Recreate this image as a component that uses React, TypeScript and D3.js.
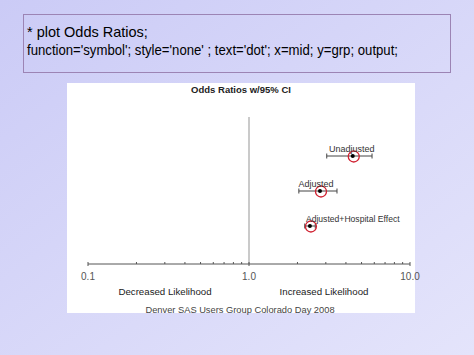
import React from "react";
import * as d3 from "d3";

const groups = ["Unadjusted", "Adjusted", "Adjusted+Hospital Effect"];
const oddsRatio = [4.41, 2.76, 2.39];
const lowerCI = [3.04, 2.04, 2.22];
const upperCI = [5.81, 3.52, 2.58];
const majorTicks = [0.1, 1, 10];
const majorTickLabels = ["0.1", "1.0", "10.0"];
const minorTicks = [0.2, 0.3, 0.4, 0.5, 0.6, 0.7, 0.8, 0.9, 2, 3, 4, 5, 6, 7, 8, 9];

const W = 474;
const H = 355;

export default function App() {
  const x = d3.scaleLog().domain([0.1, 10]).range([88, 410]);
  const y = d3.scalePoint<string>().domain(groups).range([156, 226]);
  const font = "Arial, 'Liberation Sans', Helvetica, sans-serif";
  const axisY = 264;
  const labelOffsetX = [0, -3, 0];
  const labelSize = [9, 9, 8.6];
  return (
    <svg width={W} height={H} style={{ position: "absolute", left: 0, top: 0 }} fontFamily={font}>
      <defs>
        <linearGradient id="bg" x1="0" y1="0" x2="1" y2="1">
          <stop offset="0" stopColor="#cbcbf6" />
          <stop offset="1" stopColor="#e4e4fb" />
        </linearGradient>
      </defs>
      <rect x={0} y={0} width={W} height={H} fill="url(#bg)" />
      <rect x={23.5} y={14.5} width={427} height={58} fill="none" stroke="#9c84b4" strokeWidth={1} />
      <text x={27} y={37} fontSize={14.5} fill="#000">* plot Odds Ratios;</text>
      <text x={27} y={55} fontSize={14} fill="#000" textLength={371} lengthAdjust="spacingAndGlyphs">function='symbol'; style='none' ; text='dot'; x=mid; y=grp; output;</text>

      <rect x={67} y={83} width={348} height={230} fill="#fff" />
      <text x={241} y={93} fontSize={9.5} fontWeight="bold" textAnchor="middle" fill="#222">Odds Ratios w/95% CI</text>

      <line x1={x(1)} x2={x(1)} y1={117} y2={axisY} stroke="#b8b8b8" strokeWidth={1.5} />

      <line x1={x(0.1)} x2={x(10)} y1={axisY} y2={axisY} stroke="#555" strokeWidth={1} />
      {minorTicks.map((t) => (
        <line key={"m" + t} x1={x(t)} x2={x(t)} y1={axisY - 2} y2={axisY} stroke="#555" />
      ))}
      {majorTicks.map((t, i) => (
        <g key={"M" + t}>
          <line x1={x(t)} x2={x(t)} y1={axisY - 2} y2={axisY + 2} stroke="#555" />
          <text x={x(t)} y={axisY + 16} fontSize={10} textAnchor="middle" fill="#555">{majorTickLabels[i]}</text>
        </g>
      ))}
      <text x={165} y={295} fontSize={9.7} textAnchor="middle" fill="#222">Decreased Likelihood</text>
      <text x={324} y={295} fontSize={9.7} textAnchor="middle" fill="#222">Increased Likelihood</text>
      <text x={240} y={313} fontSize={9.3} textAnchor="middle" fill="#444">Denver SAS Users Group Colorado Day 2008</text>

      {groups.map((g, i) => {
        const cy = y(g)!;
        const lx = x(lowerCI[i]);
        const ux = x(upperCI[i]);
        const cx = x(oddsRatio[i]);
        return (
          <g key={g}>
            <line x1={lx} x2={ux} y1={cy} y2={cy} stroke="#444" />
            <line x1={lx} x2={lx} y1={cy - 2.5} y2={cy + 2.5} stroke="#444" />
            <line x1={ux} x2={ux} y1={cy - 2.5} y2={cy + 2.5} stroke="#444" />
            <circle cx={cx + 1} cy={cy + 0.5} r={5.5} fill="none" stroke="#d02030" strokeWidth={1.3} />
            <circle cx={cx} cy={cy} r={2} fill="#000" />
            <text
              x={i === 2 ? cx - 4 : cx + labelOffsetX[i] - 1}
              y={cy - 4.5}
              fontSize={labelSize[i]}
              textAnchor={i === 2 ? "start" : "middle"}
              fill="#333"
            >
              {g}
            </text>
          </g>
        );
      })}
    </svg>
  );
}
